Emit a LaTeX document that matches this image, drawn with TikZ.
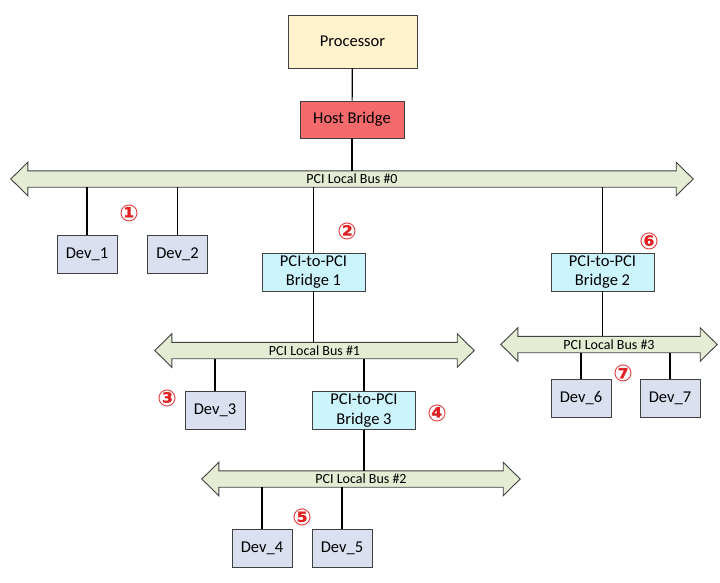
\documentclass[tikz,border=0pt]{standalone}
\usepackage{fontspec}
\setmainfont{Carlito}
\newfontfamily\circfont{DejaVu Sans Bold}
\usetikzlibrary{calc}
\definecolor{procfill}{HTML}{FFF2CC}
\definecolor{hostfill}{HTML}{F56B6B}
\definecolor{devfill}{HTML}{DAE0F0}
\definecolor{brfill}{HTML}{CCF4FC}
\definecolor{busfill}{HTML}{E4ECD4}
\definecolor{boxline}{HTML}{404040}
\definecolor{busline}{HTML}{404040}
\definecolor{tagred}{HTML}{E02020}
\tikzset{
  box/.style={draw=boxline, line width=0.9pt, inner sep=0pt, font=\fontsize{16.5}{19.5}\selectfont, align=center},
  proc/.style={box, fill=procfill, minimum width=129pt, minimum height=53pt},
  host/.style={box, fill=hostfill, minimum width=104pt, minimum height=37pt},
  dev/.style={box, fill=devfill, minimum width=60pt, minimum height=38pt},
  bridge/.style={box, fill=brfill, minimum width=103pt, minimum height=38pt},
  shaft/.style={inner sep=0pt, minimum height=16pt},
  buslabel/.style={font=\fontsize{14}{14}\selectfont, inner sep=0pt},
  busshape/.style={draw=busline, fill=busfill, line width=0.9pt, line join=miter},
  wire/.style={draw=black, line width=1.2pt},
  numtag/.style={text=tagred, font=\circfont\fontsize{23}{23}\selectfont, inner sep=0pt}
}
\newcommand\drawbus[2]{%
  \draw[busshape] (#1.north west) -- (#1.north east) -- ([yshift=8.5pt]#1.north east)
    -- ([xshift=17pt]#1.east) -- ([yshift=-8.5pt]#1.south east) -- (#1.south east)
    -- (#1.south west) -- ([yshift=-8.5pt]#1.south west) -- ([xshift=-17pt]#1.west)
    -- ([yshift=8.5pt]#1.north west) -- cycle;
  \node[buslabel] (#1t) at (#1) {#2};}
\begin{document}
\begin{tikzpicture}[x=1pt,y=-1pt]
\useasboundingbox[fill=white] (0,0) rectangle (720,583);
% buses
\node[shaft, minimum width=648pt] (b0) at (352,179) {};
\drawbus{b0}{PCI Local Bus \#0}
\node[shaft, minimum width=285pt] (b1) at (314.5,350.5) {};
\drawbus{b1}{PCI Local Bus \#1}
\node[shaft, minimum width=284pt] (b2) at (361,479) {};
\drawbus{b2}{PCI Local Bus \#2}
\node[shaft, minimum width=182pt] (b3) at (609,344.5) {};
\drawbus{b3}{PCI Local Bus \#3}
% boxes
\node[proc] (proc) at (352.5,41.5) {Processor};
\node[host] (hb) at (352,119.5) {Host Bridge};
\node[dev] (d1) at (87,254) {Dev\_1};
\node[dev] (d2) at (177.5,254) {Dev\_2};
\node[bridge] (br1) at (313.5,272) {PCI-to-PCI\\Bridge 1};
\node[bridge] (br2) at (602.5,272) {PCI-to-PCI\\Bridge 2};
\node[dev] (d3) at (215,410.5) {Dev\_3};
\node[bridge] (br3) at (364,410.5) {PCI-to-PCI\\Bridge 3};
\node[dev] (d6) at (581,398) {Dev\_6};
\node[dev] (d7) at (670,398) {Dev\_7};
\node[dev] (d4) at (262,548.5) {Dev\_4};
\node[dev] (d5) at (342,548.5) {Dev\_5};
% wires
\draw[wire] (proc) -- (hb);
\draw[wire] (hb.south) -- (hb.south |- b0.north);
\draw[wire] (d1.north) -- (d1.north |- b0.south);
\draw[wire] (d2.north) -- (d2.north |- b0.south);
\draw[wire] (br1.north) -- (br1.north |- b0.south);
\draw[wire] (br2.north) -- (br2.north |- b0.south);
\draw[wire] (br1.south) -- (br1.south |- b1.north);
\draw[wire] (br2.south) -- (br2.south |- b3.north);
\draw[wire] (d3.north) -- (d3.north |- b1.south);
\draw[wire] (br3.north) -- (br3.north |- b1.south);
\draw[wire] (br3.south) -- (br3.south |- b2.north);
\draw[wire] (d4.north) -- (d4.north |- b2.south);
\draw[wire] (d5.north) -- (d5.north |- b2.south);
\draw[wire] (d6.north) -- (d6.north |- b3.south);
\draw[wire] (d7.north) -- (d7.north |- b3.south);
% tags
\node[numtag] (t1) at (129,213) {①};
\node[numtag] (t2) at (347,231) {②};
\node[numtag] (t3) at (167,398) {③};
\node[numtag] (t4) at (437,413) {④};
\node[numtag] (t5) at (302,517) {⑤};
\node[numtag] (t6) at (649,241) {⑥};
\node[numtag] (t7) at (623,373) {⑦};
\end{tikzpicture}
\end{document}
